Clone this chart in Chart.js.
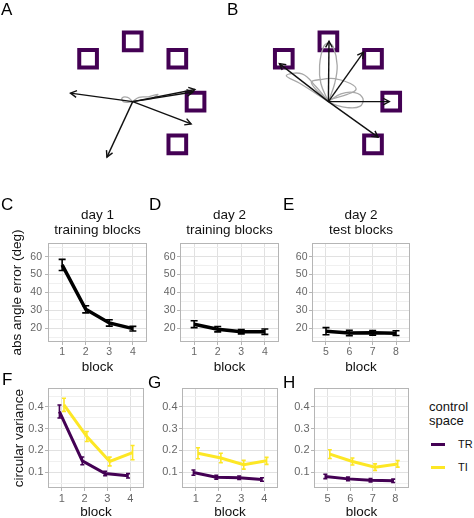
<!DOCTYPE html>
<html>
<head>
<meta charset="utf-8">
<script src="https://cdn.jsdelivr.net/npm/chart.js@4.4.1/dist/chart.umd.min.js"></script>
<style>
html, body { margin: 0; padding: 0; width: 474px; height: 518px; overflow: hidden; background: #fff; }
body { position: relative; font-family: 'Liberation Sans', Arial, Helvetica, sans-serif; }
canvas { position: absolute; }
.letter { position: absolute; font-size: 17px; line-height: 17px; color: #000; }
#legend { position: absolute; left: 429px; top: 400px; color: #111; }
#legend .ttl { font-size: 13px; line-height: 13.5px; }
#legend .item { position: absolute; left: 2px; width: 60px; height: 14px; }
#legend .key { position: absolute; left: 0; top: 5.5px; width: 14px; height: 3px; }
#legend .txt { position: absolute; left: 27px; top: 0; font-size: 11px; line-height: 14px; }
</style>
</head>
<body>
<script>
// ---- panels A / B: targets and reach end points (unit = target distance)
const targetX = [0, 0.71, -0.71, 1, 0.71];
const targetY = [1, 0.71, 0.71, 0, -0.71];
const reachEndsA = [[-0.99, 0.14], [0.99, 0.2], [0.96, 0.16], [0.93, -0.37], [-0.41, -0.92]];
const reachEndsB = [[0.01, 1.0], [-0.78, 0.63], [0.56, 0.82], [0.97, 0], [0.79, -0.59]];
const pathsA = [
  [[0, 0], [-0.08, 0.07], [-0.17, 0.06], [-0.15, 0.0], [-0.05, -0.01], [0, 0]],
  [[0, 0], [0.1, 0.07], [0.25, 0.08], [0.4, 0.12], [0.3, 0.05], [0.12, 0.02]]
];
const pathsB = [
  [[0, 0], [-0.12, 0.3], [-0.14, 0.6], [-0.08, 0.9], [0, 0.97], [0.08, 0.9], [0.14, 0.6], [0.1, 0.3], [0, 0]],
  [[0, 0], [-0.27, 0.31], [-0.1, 0.37], [0.1, 0.38], [0.35, 0.3], [0.44, 0.2], [0.3, 0.12], [0.05, 0.04], [0, 0]],
  [[0, 0], [0.2, 0.13], [0.42, 0.15], [0.55, 0.05], [0.5, -0.08], [0.3, -0.1], [0.1, -0.05], [0, 0]],
  [[0, 0], [-0.45, 0.3], [-0.67, 0.43], [-0.42, 0.46], [-0.2, 0.25], [0, 0]]
];

// ---- panels C-E: abs angle error (deg), mean and s.e.
const blocksTrain = [1, 2, 3, 4];
const blocksTest = [5, 6, 7, 8];
const errDay1Train = [55.4, 30.6, 23.0, 19.8];
const errDay1TrainSE = [3.1, 2.0, 1.8, 1.3];
const errDay2Train = [22.3, 19.5, 18.1, 18.1];
const errDay2TrainSE = [1.9, 1.5, 1.2, 1.5];
const errDay2Test = [18.4, 17.4, 17.5, 17.3];
const errDay2TestSE = [2.0, 1.5, 1.3, 1.3];
const errTicksMajor = [20, 30, 40, 50, 60];
const errTicksMinor = [15, 25, 35, 45, 55, 65];

// ---- panels F-H: circular variance by control space
const seriesNames = ['TR', 'TI'];
const cvDay1TrainTR = [0.379, 0.152, 0.094, 0.083];
const cvDay1TrainTI = [0.41, 0.264, 0.149, 0.19];
const cvDay2TrainTR = [0.098, 0.077, 0.074, 0.066];
const cvDay2TrainTI = [0.187, 0.165, 0.134, 0.152];
const cvDay2TestTR = [0.08, 0.069, 0.063, 0.06];
const cvDay2TestTI = [0.183, 0.149, 0.123, 0.138];
const cvDay1TrainTRSE = [0.03, 0.018, 0.01, 0.01];
const cvDay1TrainTISE = [0.03, 0.023, 0.02, 0.033];
const cvDay2TrainTRSE = [0.012, 0.009, 0.008, 0.008];
const cvDay2TrainTISE = [0.025, 0.022, 0.02, 0.016];
const cvDay2TestTRSE = [0.01, 0.008, 0.008, 0.008];
const cvDay2TestTISE = [0.02, 0.016, 0.015, 0.015];
const cvTicksMajor = [0.1, 0.2, 0.3, 0.4];
const cvTicksMinor = [0.05, 0.15, 0.25, 0.35, 0.45];

// ---- styles
const seriesColors = ['#440154', '#FDE725'];
const PURPLE = '#440154';
const GRID_MAJOR = '#e1e1e1';
const GRID_MINOR = '#f0f0f0';
const FRAME = '#b5b5b5';
const TICK_TEXT = '#666666';

Chart.defaults.font.family = "'Liberation Sans', Arial, Helvetica, sans-serif";
Chart.defaults.animation = false;

function addCanvas(left, top, width, height) {
  const c = document.createElement('canvas');
  c.width = width;
  c.height = height;
  c.style.left = left + 'px';
  c.style.top = top + 'px';
  c.style.width = width + 'px';
  c.style.height = height + 'px';
  document.body.appendChild(c);
  return c;
}

function addText(cls, text, left, top) {
  const d = document.createElement('div');
  d.className = cls;
  d.textContent = text;
  d.style.left = left + 'px';
  d.style.top = top + 'px';
  document.body.appendChild(d);
}

// open arrow heads at the end of reach vectors
const arrowHeads = {
  id: 'arrowHeads',
  afterDatasetsDraw(chart) {
    const { ctx } = chart;
    chart.data.datasets.forEach((ds, i) => {
      if (!ds.arrow) return;
      const pts = chart.getDatasetMeta(i).data;
      const a = pts[0], b = pts[pts.length - 1];
      const ang = Math.atan2(b.y - a.y, b.x - a.x);
      const len = 7, spread = 0.5;
      ctx.save();
      ctx.strokeStyle = ds.borderColor;
      ctx.lineWidth = ds.borderWidth;
      ctx.beginPath();
      ctx.moveTo(b.x - len * Math.cos(ang - spread), b.y - len * Math.sin(ang - spread));
      ctx.lineTo(b.x, b.y);
      ctx.lineTo(b.x - len * Math.cos(ang + spread), b.y - len * Math.sin(ang + spread));
      ctx.stroke();
      ctx.restore();
    });
  },
};

// grey box around each facet
const panelFrame = {
  id: 'panelFrame',
  beforeDatasetsDraw(chart) {
    const { ctx, chartArea: { left, top, width, height } } = chart;
    ctx.save();
    ctx.strokeStyle = FRAME;
    ctx.lineWidth = 1;
    ctx.strokeRect(Math.round(left) + 0.5, Math.round(top) + 0.5, Math.round(width) - 1, Math.round(height) - 1);
    ctx.restore();
  },
};

// vertical error bars with caps
const errorBars = {
  id: 'errorBars',
  afterDatasetsDraw(chart) {
    const { ctx, scales: { x, y } } = chart;
    chart.data.datasets.forEach((ds) => {
      if (!ds.errors) return;
      ctx.save();
      ctx.strokeStyle = ds.borderColor;
      ctx.lineWidth = ds.errorWidth;
      ds.data.forEach((p, j) => {
        const px = x.getPixelForValue(p.x);
        const lo = y.getPixelForValue(p.y - ds.errors[j]);
        const hi = y.getPixelForValue(p.y + ds.errors[j]);
        const cw = ds.capHalf;
        ctx.beginPath();
        ctx.moveTo(px, lo); ctx.lineTo(px, hi);
        ctx.moveTo(px - cw, lo); ctx.lineTo(px + cw, lo);
        ctx.moveTo(px - cw, hi); ctx.lineTo(px + cw, hi);
        ctx.stroke();
      });
      ctx.restore();
    });
  },
};

function reachChart(canvas, ends, paths, xMin, xMax) {
  const datasets = [];
  ends.forEach(([x, y]) => {
    datasets.push({
      data: [{ x: 0, y: 0 }, { x, y }],
      borderColor: '#111111', borderWidth: 1.4, pointRadius: 0, showLine: true, arrow: true,
    });
  });
  paths.forEach((p) => {
    datasets.push({
      data: p.map(([x, y]) => ({ x, y })),
      borderColor: '#a8a8a8', borderWidth: 1.3, pointRadius: 0, showLine: true, tension: 0.4,
    });
  });
  datasets.push({
    data: targetX.map((x, i) => ({ x, y: targetY[i] })),
    pointStyle: 'rect', pointRadius: 12.5, borderColor: PURPLE, borderWidth: 4,
    backgroundColor: 'rgba(0,0,0,0)', showLine: false,
  });
  new Chart(canvas, {
    type: 'scatter',
    data: { datasets },
    options: {
      responsive: false,
      layout: { padding: 0 },
      plugins: { legend: { display: false }, tooltip: { enabled: false } },
      scales: {
        x: { display: false, min: xMin, max: xMax },
        y: { display: false, min: -1.192, max: 1.411 },
      },
    },
    plugins: [arrowHeads],
  });
}

function linePanel(cfg) {
  const canvas = addCanvas(cfg.left, cfg.top, cfg.width, cfg.height);
  const isMajor = (v) => cfg.yMajor.includes(v);
  new Chart(canvas, {
    type: 'scatter',
    data: { datasets: cfg.datasets },
    options: {
      responsive: false,
      layout: { padding: { top: cfg.padTop, right: 3, bottom: 0, left: 0 } },
      plugins: {
        legend: { display: false },
        tooltip: { enabled: false },
        title: {
          display: !!cfg.title,
          text: cfg.title,
          fullSize: false,
          color: '#111111',
          font: { size: 13.5, weight: 'normal', lineHeight: '15px' },
          padding: { top: 7.5, bottom: 5.5 },
        },
      },
      scales: {
        x: {
          type: 'linear',
          min: cfg.xMin,
          max: cfg.xMax,
          afterBuildTicks: (s) => { s.ticks = cfg.xTicks.map((v) => ({ value: v })); },
          afterFit: (s) => { s.height = cfg.xAxisH; },
          ticks: {
            autoSkip: false, maxRotation: 0, padding: cfg.xPad,
            color: TICK_TEXT, font: { size: cfg.tickSize },
            callback: (v) => String(v),
          },
          grid: { color: GRID_MAJOR, tickColor: FRAME, tickLength: 3 },
          border: { display: false },
          title: {
            display: true, text: 'block', color: '#111111',
            font: { size: 13.5 }, padding: { top: 0, bottom: 0 },
          },
        },
        y: {
          min: cfg.yMin,
          max: cfg.yMax,
          afterBuildTicks: (s) => {
            s.ticks = cfg.yMajor.concat(cfg.yMinor).sort((a, b) => a - b).map((v) => ({ value: v }));
          },
          afterFit: (s) => { s.width = cfg.yAxisW; },
          ticks: {
            autoSkip: false, padding: cfg.yPad,
            color: TICK_TEXT, font: { size: cfg.tickSize },
            callback: (v) => (isMajor(v) ? cfg.yFmt(v) : ''),
          },
          grid: {
            color: (c) => (c.tick && isMajor(c.tick.value) ? GRID_MAJOR : GRID_MINOR),
            tickColor: (c) => (c.tick && isMajor(c.tick.value) ? FRAME : 'rgba(0,0,0,0)'),
            tickLength: 3,
          },
          border: { display: false },
          title: cfg.yTitle
            ? { display: true, text: cfg.yTitle, color: '#111111', font: { size: 13.5 }, padding: { top: cfg.yTitlePad, bottom: 0 } }
            : { display: false },
        },
      },
    },
    plugins: [panelFrame, errorBars],
  });
}

function errSeries(blocks, vals, se) {
  return [{
    data: blocks.map((b, i) => ({ x: b, y: vals[i] })),
    errors: se, errorWidth: 1.6, capHalf: 3.5,
    borderColor: '#000000', borderWidth: 3.5, pointRadius: 0, showLine: true,
  }];
}

function cvSeries(blocks, trVals, tiVals, trSE, tiSE) {
  const dodge = [-0.1, 0.1];
  return [trVals, tiVals].map((vals, k) => ({
    label: seriesNames[k],
    data: blocks.map((b, i) => ({ x: b + dodge[k], y: vals[i] })),
    errors: [trSE, tiSE][k], errorWidth: 1.6, capHalf: 2,
    borderColor: seriesColors[k], borderWidth: 3, pointRadius: 0, showLine: true,
  }));
}

// ---- row 0: reach diagrams
reachChart(addCanvas(0, 0, 237, 190), reachEndsA, pathsA, -1.849, 1.397);
reachChart(addCanvas(237, 0, 237, 190), reachEndsB, pathsB, -1.192, 2.055);

// ---- row 1: abs angle error
const row1 = { top: 200, height: 175, padTop: 0, xAxisH: 33, xPad: 1, tickSize: 10.5,
  yMin: 12.35, yMax: 67.65, yMajor: errTicksMajor, yMinor: errTicksMinor, yFmt: (v) => String(v) };
linePanel(Object.assign({}, row1, {
  left: 0, width: 150, yAxisW: 48, yPad: 3, yTitle: 'abs angle error (deg)', yTitlePad: 9,
  title: ['day 1', 'training blocks'], xMin: 0.4, xMax: 4.6, xTicks: blocksTrain,
  datasets: errSeries(blocksTrain, errDay1Train, errDay1TrainSE),
}));
linePanel(Object.assign({}, row1, {
  left: 150, width: 132, yAxisW: 30, yPad: 1.5,
  title: ['day 2', 'training blocks'], xMin: 0.4, xMax: 4.6, xTicks: blocksTrain,
  datasets: errSeries(blocksTrain, errDay2Train, errDay2TrainSE),
}));
linePanel(Object.assign({}, row1, {
  left: 282, width: 131, yAxisW: 30, yPad: 1.5,
  title: ['day 2', 'test blocks'], xMin: 4.4, xMax: 8.6, xTicks: blocksTest,
  datasets: errSeries(blocksTest, errDay2Test, errDay2TestSE),
}));

// ---- row 2: circular variance
const row2 = { top: 380, height: 140, padTop: 8, xAxisH: 32, xPad: 1.5, tickSize: 11,
  yMin: 0.027, yMax: 0.487, yMajor: cvTicksMajor, yMinor: cvTicksMinor, yFmt: (v) => v.toFixed(1) };
linePanel(Object.assign({}, row2, {
  left: 0, width: 147, yAxisW: 48, yPad: 1.5, yTitle: 'circular variance', yTitlePad: 11,
  xMin: 0.4, xMax: 4.6, xTicks: blocksTrain,
  datasets: cvSeries(blocksTrain, cvDay1TrainTR, cvDay1TrainTI, cvDay1TrainTRSE, cvDay1TrainTISE),
}));
linePanel(Object.assign({}, row2, {
  left: 152, width: 129, yAxisW: 30, yPad: 1.5,
  xMin: 0.4, xMax: 4.6, xTicks: blocksTrain,
  datasets: cvSeries(blocksTrain, cvDay2TrainTR, cvDay2TrainTI, cvDay2TrainTRSE, cvDay2TrainTISE),
}));
linePanel(Object.assign({}, row2, {
  left: 284, width: 128, yAxisW: 30, yPad: 1.5,
  xMin: 4.4, xMax: 8.6, xTicks: blocksTest,
  datasets: cvSeries(blocksTest, cvDay2TestTR, cvDay2TestTI, cvDay2TestTRSE, cvDay2TestTISE),
}));

// ---- panel letters
[['A', 1, 1], ['B', 227, 1], ['C', 1, 196], ['D', 149, 196], ['E', 283, 196],
 ['F', 2, 371], ['G', 148, 374], ['H', 283, 374]].forEach(([t, x, y]) => addText('letter', t, x, y));

// ---- legend
const legend = document.createElement('div');
legend.id = 'legend';
legend.innerHTML = '<div class="ttl">control<br>space</div>';
seriesNames.forEach((name, k) => {
  const item = document.createElement('div');
  item.className = 'item';
  item.style.top = (37 + k * 23) + 'px';
  item.innerHTML = '<div class="key" style="background:' + seriesColors[k] + '"></div><div class="txt">' + name + '</div>';
  legend.appendChild(item);
});
document.body.appendChild(legend);
</script>
</body>
</html>
